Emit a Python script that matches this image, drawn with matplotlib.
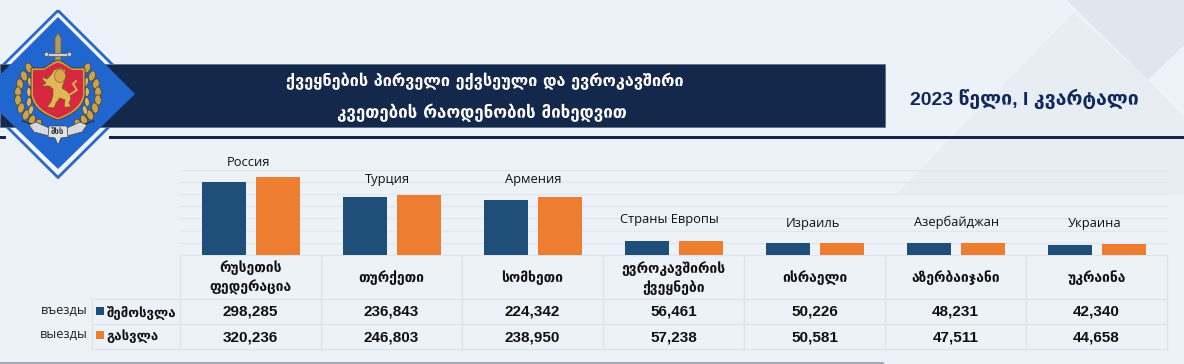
import matplotlib
matplotlib.use("Agg")
import matplotlib.pyplot as plt
from matplotlib.patches import Polygon, Rectangle, PathPatch, Ellipse, Circle
from matplotlib.path import Path
import numpy as np

categories_ru = ["Россия", "Турция", "Армения", "Страны Европы", "Израиль", "Азербайджан", "Украина"]
categories_ka = ["რუსეთის\nფედერაცია", "თურქეთი", "სომხეთი", "ევროკავშირის\nქვეყნები", "ისრაელი", "აზერბაიჯანი", "უკრაინა"]
entries = [298285, 236843, 224342, 56461, 50226, 48231, 42340]
exits = [320236, 246803, 238950, 57238, 50581, 47511, 44658]
title_lines = ["ქვეყნების პირველი ექვსეული და ევროკავშირი", "კვეთების რაოდენობის მიხედვით"]
period = "2023 წელი, I კვარტალი"
series_ka = ["შემოსვლა", "გასვლა"]
series_ru = ["въезды", "выезды"]

BG = "#edf2f9"; NAVY = "#14284b"; BLUE = "#1f4e79"; ORANGE = "#ed7d31"; GRID = "#e2e7ee"
W, H = 1184, 364
fig = plt.figure(figsize=(W/100, H/100), dpi=100, facecolor=BG)
bg = fig.add_axes([0, 0, 1, 1]); bg.set_xlim(0, W); bg.set_ylim(H, 0); bg.axis("off")

# background facets
bg.add_patch(Polygon([(897,194),(1073,13),(1148,80),(1184,117),(1184,194)], fc="#e8edf4", ec="none", zorder=0))
bg.add_patch(Polygon([(1067,0),(1148,80),(1184,45),(1184,0)], fc="#e0e5ee", ec="none", zorder=0.2))
bg.add_patch(Polygon([(1148,80),(1184,45),(1184,117)], fc="#eef2f9", ec="none", zorder=0.2))

# emblem backing, header band and rule
bg.add_patch(Polygon([(58,9),(143,94),(58,179),(-27,94)], fc="#f1f5fb", ec="none", zorder=0.5))
bg.add_patch(Polygon([(58,10.5),(142,94),(58,177.5),(-26,94)], fc="none", ec="#2a68c8", lw=2.0, zorder=0.6))
bg.add_patch(Rectangle((0,64), 885, 62.5, fc=NAVY, ec="#5d6f8c", lw=0.6, zorder=1))
bg.add_patch(Rectangle((0,135.5), 6, 3.5, fc=NAVY, ec="none", zorder=1))
bg.add_patch(Rectangle((109,135.5), W-109, 3.5, fc=NAVY, ec="none", zorder=1))
bg.plot([0,884],[363,363], color="#9aa3b0", lw=1.3, zorder=1, solid_capstyle="butt")
bg.text(485, 81, title_lines[0], color="white", fontsize=11.7, fontweight="bold", family="DejaVu Sans", ha="center", va="center", zorder=2)
bg.text(482, 113, title_lines[1], color="white", fontsize=12.2, fontweight="bold", family="DejaVu Sans", ha="center", va="center", zorder=2)
bg.text(1024, 99, period, color="#10285a", fontsize=14, fontweight="bold", family=["Liberation Sans","DejaVu Sans"], ha="center", va="center", zorder=2)

# emblem
bg.add_patch(Polygon([(58,17),(135,94),(58,169),(-19,94)], fc="#2166cf", ec="none", zorder=3))
gold = "#c9a24d"; dark = "#4d3f1e"
def wreath(s):
    arc_x = [29, 24, 20, 18, 18, 21, 26, 32, 38]
    arc_y = [68, 76, 84, 92, 100, 108, 115, 120, 124]
    for ax_, ay in zip(arc_x, arc_y):
        px = 58 + s*(ax_-58)
        bg.add_patch(Ellipse((px, ay), 6.5, 10.5, angle=s*(ay-95)*0.9, fc=gold, ec=dark, lw=0.5, zorder=4))
    for ax_, ay in zip([30,29,29,31], [82,92,102,110]):
        px = 58 + s*(ax_-58)
        bg.add_patch(Ellipse((px, ay), 4.5, 9, angle=s*(ay-95)*0.9, fc="#d8b765", ec=dark, lw=0.4, zorder=4))
wreath(-1); wreath(1)
for s in (-1, 1):
    bg.add_patch(Polygon([(58+s*9,128),(58+s*22,122),(58+s*29,125),(58+s*24,132),(58+s*9,136)], fc="#d7dbe0", ec="#444", lw=0.5, zorder=5))
    bg.plot([58+s*20,58+s*36],[126,121], color="#30343a", lw=1.0, zorder=4.9)
bg.add_patch(Polygon([(55,38),(58,33),(61,38),(61,62),(55,62)], fc="#b39a63", ec="#6e5e35", lw=0.5, zorder=4))
bg.add_patch(Rectangle((47,53),22,2.6, fc="#cfcfcf", ec="#444", lw=0.4, zorder=4))
for cx in (46.5, 69.5):
    bg.add_patch(Circle((cx,54.3),2.1, fc="#cfcfcf", ec="#444", lw=0.4, zorder=4))
def shield(x0, x1, ytop, ymid, ybot, yside):
    c = 58
    verts = [(x0,ytop),(c-14,ytop),(c-5,ymid+2),(c,ymid),(c+5,ymid+2),(c+14,ytop),(x1,ytop),
             (x1,yside),(x1-3,ybot-8),(c,ybot),(x0+3,ybot-8),(x0,yside),(x0,ytop)]
    codes = [Path.MOVETO]+[Path.LINETO]*6+[Path.LINETO,Path.CURVE3,Path.CURVE3,Path.CURVE3,Path.CURVE3,Path.CLOSEPOLY]
    return Path(verts, codes)
bg.add_patch(PathPatch(shield(31,85,68,60,120,96), fc=gold, ec=dark, lw=0.6, zorder=4.5))
bg.add_patch(PathPatch(shield(33,83,70,62.5,118,95), fc="#d7283f", ec="none", zorder=4.6))
lion = [(42,77),(47,79),(51,75),(54,70),(60,68),(65,70),(66,77),(64,82),(62,88),(68,92),(71,98),(69,103),(71,107),(64,107),
        (65,100),(60,98),(56,103),(54,108),(47,107),(51,102),(53,95),(53,89),(49,86),(41,86),(46,83),(43,80)]
bg.add_patch(Polygon(lion, fc="#e3b65a", ec="#7a5a20", lw=0.5, zorder=4.7))
bg.add_patch(Ellipse((60,76),11,13, fc="#d9a94c", ec="#7a5a20", lw=0.4, zorder=4.75))
bg.plot([69,77,73,76],[95,90,84,81], color="#e3b65a", lw=1.3, zorder=4.7)
bg.add_patch(Polygon([(49,126),(67,126),(68,137),(61,138),(58,145),(55,138),(48,137)], fc="#dfe2e6", ec="#444", lw=0.5, zorder=5.2))
bg.text(58, 132, "შსს", fontsize=5.8, fontweight="bold", family="DejaVu Sans", color="#333", ha="center", va="center", zorder=6)

# bars
ax = fig.add_axes([180/W, 1-255/H, 988/W, 85.4/H], facecolor="none")
x = np.arange(len(entries))
ax.bar(x-0.1915, entries, 0.312, color=BLUE, zorder=3)
ax.bar(x+0.1915, exits, 0.312, color=ORANGE, zorder=3)
ax.set_xlim(-0.5, 6.5); ax.set_ylim(0, 350000)
ax.set_yticks(np.arange(50000, 350001, 50000)); ax.set_xticks([])
ax.tick_params(left=False, labelleft=False)
ax.grid(axis="y", color=GRID, lw=1, zorder=0)
for s in ax.spines.values(): s.set_visible(False)

# Russian captions above the bars
cap_x = [248, 387, 533, 669, 813, 957, 1095]
cap_y = [162, 180, 180, 220, 223, 222, 224]
for t, cx, cy in zip(categories_ru, cap_x, cap_y):
    ax.text(cx, cy, t, transform=bg.transData, fontsize=9.3, family="Open Sans", color="#111",
            ha="center", va="center", zorder=6, clip_on=False)

# table
edges = 180 + 141*np.arange(8)
line = "#dfe4eb"
for e in edges:
    bg.plot([e,e],[255,349], color=line, lw=1, zorder=2)
for y in (255, 299, 324, 349):
    bg.plot([180,1167],[y,y], color=line, lw=1, zorder=2)
for y in (299, 324, 349):
    bg.plot([92,180],[y,y], color=line, lw=1, zorder=2)
bg.plot([92,92],[299,349], color=line, lw=1, zorder=2)
for i, lab in enumerate(categories_ka):
    cx = edges[i]+70.5
    bg.text(cx, 278, lab, fontsize=10.0, fontweight="bold", family="DejaVu Sans", color="#111", ha="center", va="center", linespacing=1.4, zorder=6)
    bg.text(cx, 312, f"{entries[i]:,}", fontsize=11, fontweight="bold", family="Liberation Sans", color="#111", ha="center", va="center", zorder=6)
    bg.text(cx, 337, f"{exits[i]:,}", fontsize=11, fontweight="bold", family="Liberation Sans", color="#111", ha="center", va="center", zorder=6)
for y, col, ka, ru in zip((311, 335), (BLUE, ORANGE), series_ka, series_ru):
    bg.add_patch(Rectangle((96,y-4), 8, 8, fc=col, ec="none", zorder=6))
    bg.text(106.5, y+1.5, ka, fontsize=9.5, fontweight="bold", family="DejaVu Sans", color="#111", ha="left", va="center", zorder=6)
    bg.text(88, y-0.5, ru, fontsize=9.2, family="Open Sans", color="#222", ha="right", va="center", zorder=6)

fig.savefig("out.png", dpi=100, facecolor=BG)
